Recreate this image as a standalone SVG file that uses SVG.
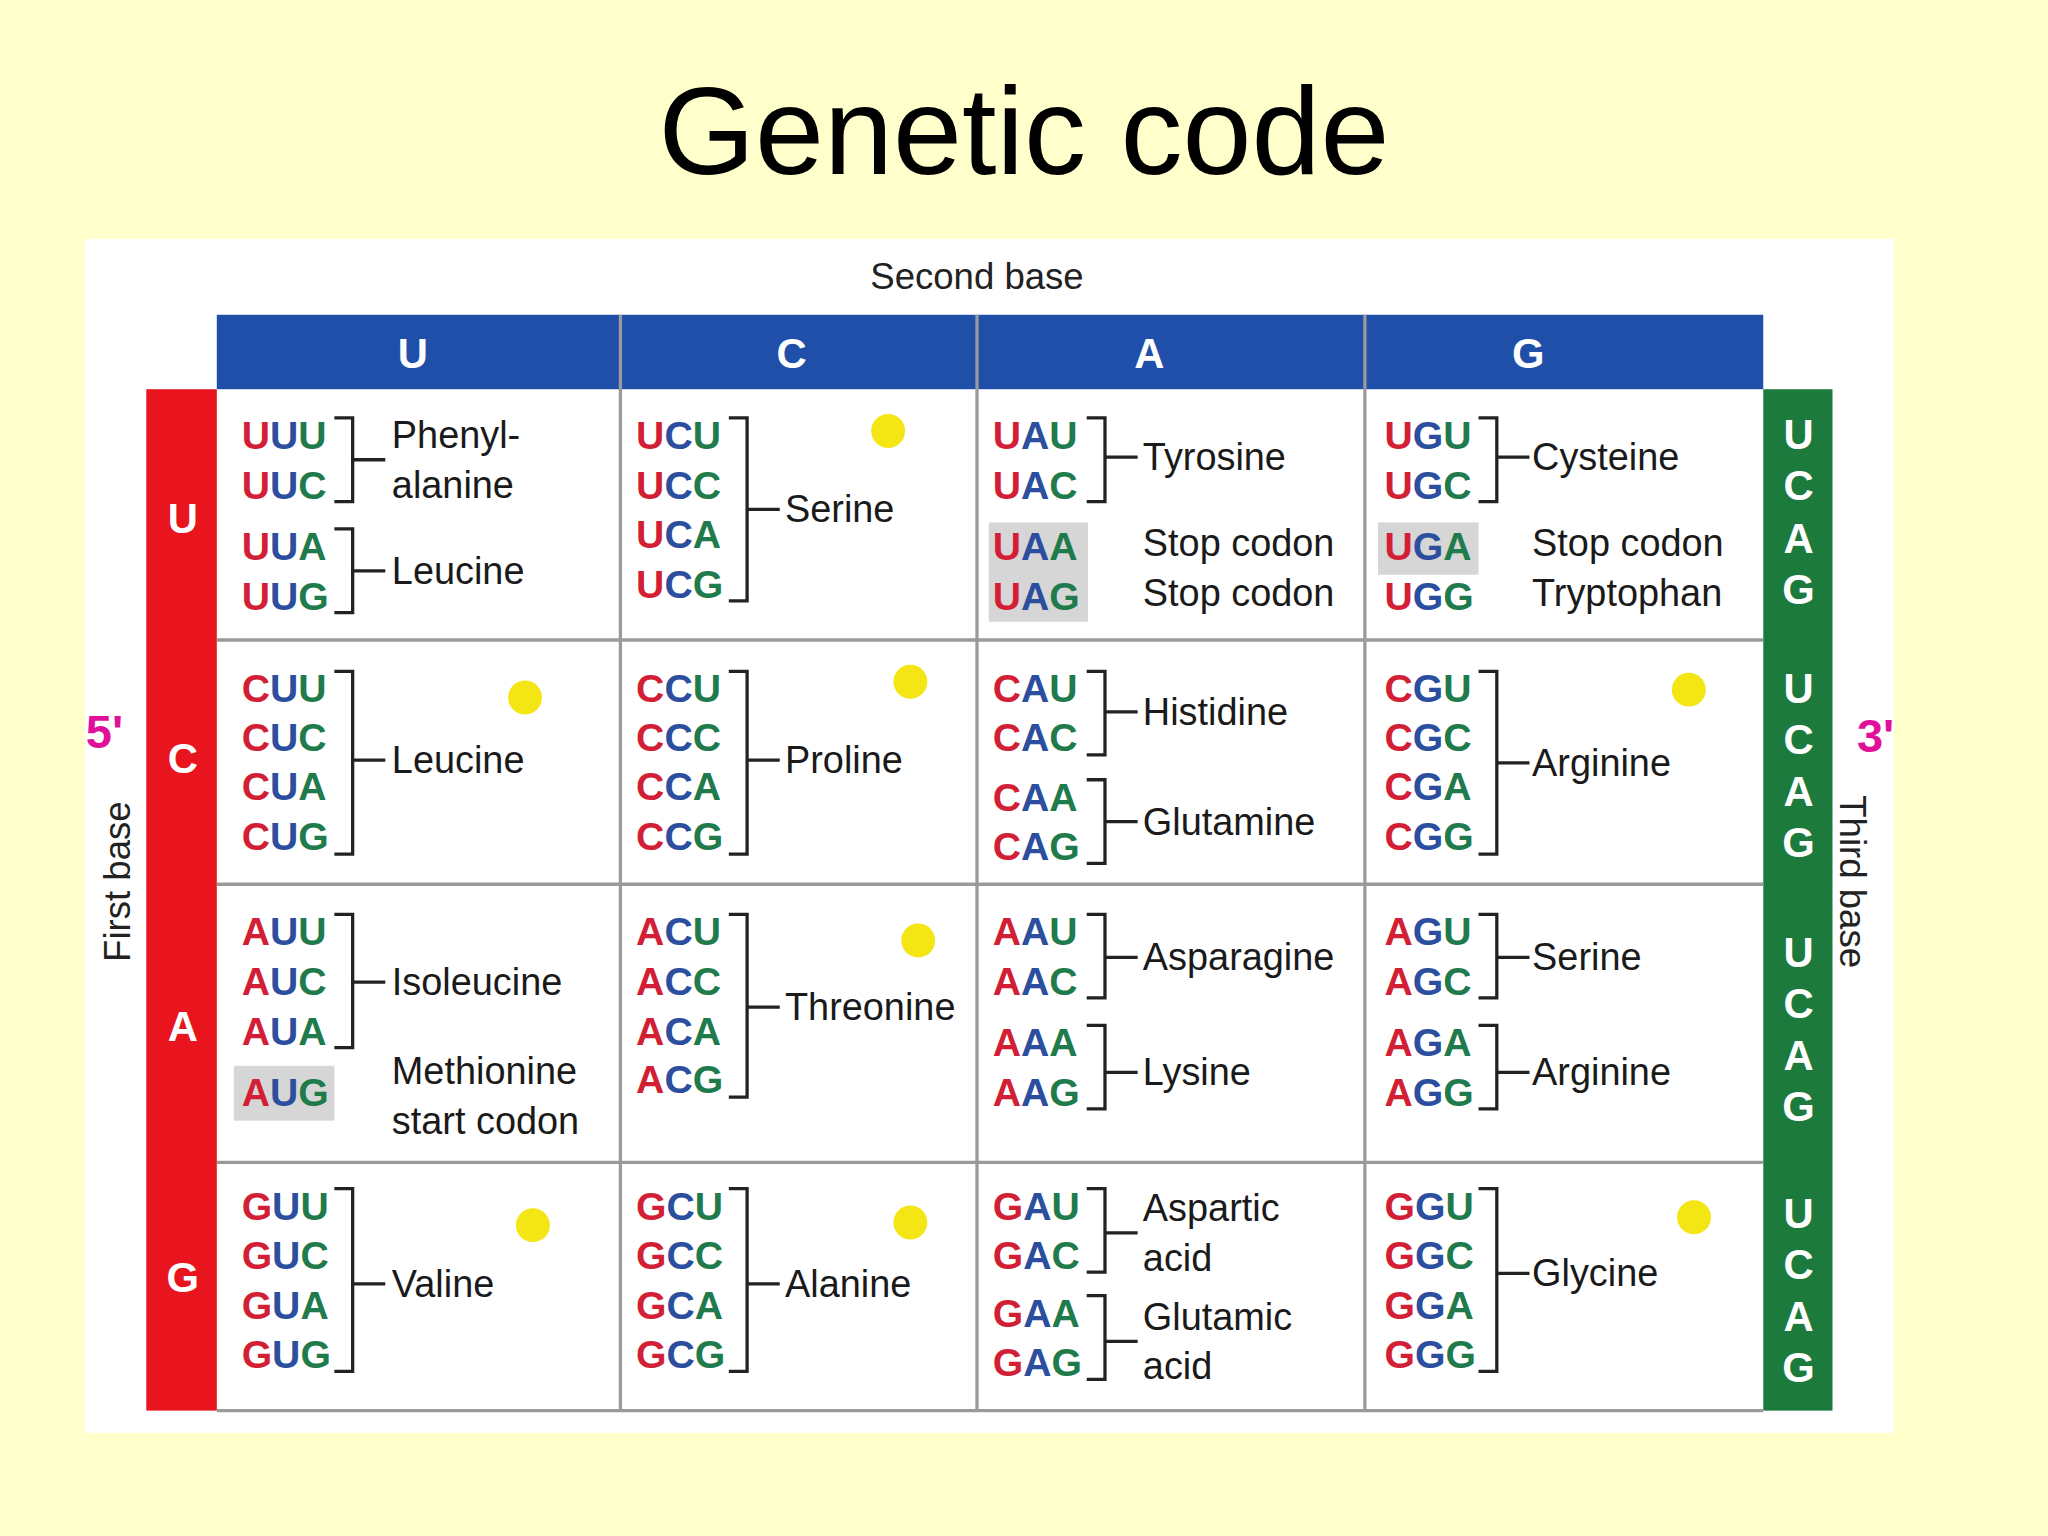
<svg xmlns="http://www.w3.org/2000/svg" width="2048" height="1536" viewBox="0 0 2048 1536">
<style>
text{font-family:"Liberation Sans",Arial,sans-serif;dominant-baseline:central}
.cd{font-size:30px;font-weight:bold}
.r{fill:#d21f35}.b{fill:#2b4e9e}.g{fill:#1f7a4c}
.lb{font-size:29px;fill:#1a1a1a}
.hd{font-size:32px;font-weight:bold;fill:#fff;text-anchor:middle}
.br{fill:none;stroke:#222;stroke-width:2.5}
.grid{stroke:#9a9a9a;stroke-width:2.5}
.dot{fill:#f4e515}
.hl{fill:#d6d6d6}
</style>
<rect width="2048" height="1536" fill="#ffffcc"/>
<g transform="scale(1.306122)">
<text x="784" y="100" font-size="95" text-anchor="middle" fill="#000">Genetic code</text>
<rect x="65" y="183" width="1385" height="914" fill="#fff"/>
<text x="748" y="212" font-size="28" text-anchor="middle" fill="#222">Second base</text>
<g id="frame">
<rect x="166" y="241" width="1184" height="57" fill="#1f4fa8"/>
<rect x="112" y="298" width="54" height="782" fill="#e8141e"/>
<rect x="1350" y="298" width="53" height="782" fill="#1c7a3c"/>
<line class="grid" x1="166" y1="490" x2="1350" y2="490"/>
<line class="grid" x1="166" y1="677" x2="1350" y2="677"/>
<line class="grid" x1="166" y1="890" x2="1350" y2="890"/>
<line class="grid" x1="166" y1="1080" x2="1350" y2="1080"/>
<line class="grid" x1="475" y1="241" x2="475" y2="1080"/>
<line class="grid" x1="748" y1="241" x2="748" y2="1080"/>
<line class="grid" x1="1045" y1="241" x2="1045" y2="1080"/>
<text class="hd" x="316" y="271">U</text><text class="hd" x="606" y="271">C</text><text class="hd" x="880" y="271">A</text><text class="hd" x="1170" y="271">G</text>
<text class="hd" x="140" y="397">U</text><text class="hd" x="140" y="581">C</text><text class="hd" x="140" y="786">A</text><text class="hd" x="140" y="978">G</text>
<g class="hd">
<text class="hd" x="1377" y="333">U</text><text class="hd" x="1377" y="372">C</text><text class="hd" x="1377" y="412">A</text><text class="hd" x="1377" y="451">G</text>
<text class="hd" x="1377" y="527">U</text><text class="hd" x="1377" y="566">C</text><text class="hd" x="1377" y="606">A</text><text class="hd" x="1377" y="645">G</text>
<text class="hd" x="1377" y="729">U</text><text class="hd" x="1377" y="768">C</text><text class="hd" x="1377" y="808">A</text><text class="hd" x="1377" y="847">G</text>
<text class="hd" x="1377" y="929">U</text><text class="hd" x="1377" y="968">C</text><text class="hd" x="1377" y="1008">A</text><text class="hd" x="1377" y="1047">G</text>
</g>
<text x="80" y="560" font-size="36" font-weight="bold" fill="#e0109a" text-anchor="middle">5'</text>
<text x="1436" y="563" font-size="36" font-weight="bold" fill="#e0109a" text-anchor="middle">3'</text>
<text transform="translate(90,675) rotate(-90)" font-size="28" text-anchor="middle" fill="#222">First base</text>
<text transform="translate(1418,675) rotate(90)" font-size="28" text-anchor="middle" fill="#222">Third base</text>
</g>
<g id="highlights">
<rect class="hl" x="757" y="400" width="76" height="76"/>
<rect class="hl" x="1055" y="400" width="77" height="40"/>
<rect class="hl" x="179" y="816" width="77" height="42"/>
<circle class="dot" cx="680" cy="330" r="13"/><circle class="dot" cx="402" cy="534" r="13"/>
<circle class="dot" cx="697" cy="522" r="13"/><circle class="dot" cx="1293" cy="528" r="13"/>
<circle class="dot" cx="703" cy="720" r="13"/><circle class="dot" cx="408" cy="938" r="13"/>
<circle class="dot" cx="697" cy="936" r="13"/><circle class="dot" cx="1297" cy="932" r="13"/>
</g>
<g id="codons" class="cd">
<!-- row U -->
<text class="cd" x="185" y="333"><tspan class="r">U</tspan><tspan class="b">U</tspan><tspan class="g">U</tspan></text>
<text class="cd" x="185" y="371"><tspan class="r">U</tspan><tspan class="b">U</tspan><tspan class="g">C</tspan></text>
<text class="cd" x="185" y="418"><tspan class="r">U</tspan><tspan class="b">U</tspan><tspan class="g">A</tspan></text>
<text class="cd" x="185" y="456"><tspan class="r">U</tspan><tspan class="b">U</tspan><tspan class="g">G</tspan></text>
<text class="cd" x="487" y="333"><tspan class="r">U</tspan><tspan class="b">C</tspan><tspan class="g">U</tspan></text>
<text class="cd" x="487" y="371"><tspan class="r">U</tspan><tspan class="b">C</tspan><tspan class="g">C</tspan></text>
<text class="cd" x="487" y="409"><tspan class="r">U</tspan><tspan class="b">C</tspan><tspan class="g">A</tspan></text>
<text class="cd" x="487" y="447"><tspan class="r">U</tspan><tspan class="b">C</tspan><tspan class="g">G</tspan></text>
<text class="cd" x="760" y="333"><tspan class="r">U</tspan><tspan class="b">A</tspan><tspan class="g">U</tspan></text>
<text class="cd" x="760" y="371"><tspan class="r">U</tspan><tspan class="b">A</tspan><tspan class="g">C</tspan></text>
<text class="cd" x="760" y="418"><tspan class="r">U</tspan><tspan class="b">A</tspan><tspan class="g">A</tspan></text>
<text class="cd" x="760" y="456"><tspan class="r">U</tspan><tspan class="b">A</tspan><tspan class="g">G</tspan></text>
<text class="cd" x="1060" y="333"><tspan class="r">U</tspan><tspan class="b">G</tspan><tspan class="g">U</tspan></text>
<text class="cd" x="1060" y="371"><tspan class="r">U</tspan><tspan class="b">G</tspan><tspan class="g">C</tspan></text>
<text class="cd" x="1060" y="418"><tspan class="r">U</tspan><tspan class="b">G</tspan><tspan class="g">A</tspan></text>
<text class="cd" x="1060" y="456"><tspan class="r">U</tspan><tspan class="b">G</tspan><tspan class="g">G</tspan></text>
<!-- row C -->
<text class="cd" x="185" y="527"><tspan class="r">C</tspan><tspan class="b">U</tspan><tspan class="g">U</tspan></text>
<text class="cd" x="185" y="564"><tspan class="r">C</tspan><tspan class="b">U</tspan><tspan class="g">C</tspan></text>
<text class="cd" x="185" y="602"><tspan class="r">C</tspan><tspan class="b">U</tspan><tspan class="g">A</tspan></text>
<text class="cd" x="185" y="640"><tspan class="r">C</tspan><tspan class="b">U</tspan><tspan class="g">G</tspan></text>
<text class="cd" x="487" y="527"><tspan class="r">C</tspan><tspan class="b">C</tspan><tspan class="g">U</tspan></text>
<text class="cd" x="487" y="564"><tspan class="r">C</tspan><tspan class="b">C</tspan><tspan class="g">C</tspan></text>
<text class="cd" x="487" y="602"><tspan class="r">C</tspan><tspan class="b">C</tspan><tspan class="g">A</tspan></text>
<text class="cd" x="487" y="640"><tspan class="r">C</tspan><tspan class="b">C</tspan><tspan class="g">G</tspan></text>
<text class="cd" x="760" y="527"><tspan class="r">C</tspan><tspan class="b">A</tspan><tspan class="g">U</tspan></text>
<text class="cd" x="760" y="564"><tspan class="r">C</tspan><tspan class="b">A</tspan><tspan class="g">C</tspan></text>
<text class="cd" x="760" y="610"><tspan class="r">C</tspan><tspan class="b">A</tspan><tspan class="g">A</tspan></text>
<text class="cd" x="760" y="648"><tspan class="r">C</tspan><tspan class="b">A</tspan><tspan class="g">G</tspan></text>
<text class="cd" x="1060" y="527"><tspan class="r">C</tspan><tspan class="b">G</tspan><tspan class="g">U</tspan></text>
<text class="cd" x="1060" y="564"><tspan class="r">C</tspan><tspan class="b">G</tspan><tspan class="g">C</tspan></text>
<text class="cd" x="1060" y="602"><tspan class="r">C</tspan><tspan class="b">G</tspan><tspan class="g">A</tspan></text>
<text class="cd" x="1060" y="640"><tspan class="r">C</tspan><tspan class="b">G</tspan><tspan class="g">G</tspan></text>
<!-- row A -->
<text class="cd" x="185" y="713"><tspan class="r">A</tspan><tspan class="b">U</tspan><tspan class="g">U</tspan></text>
<text class="cd" x="185" y="751"><tspan class="r">A</tspan><tspan class="b">U</tspan><tspan class="g">C</tspan></text>
<text class="cd" x="185" y="789"><tspan class="r">A</tspan><tspan class="b">U</tspan><tspan class="g">A</tspan></text>
<text class="cd" x="185" y="836"><tspan class="r">A</tspan><tspan class="b">U</tspan><tspan class="g">G</tspan></text>
<text class="cd" x="487" y="713"><tspan class="r">A</tspan><tspan class="b">C</tspan><tspan class="g">U</tspan></text>
<text class="cd" x="487" y="751"><tspan class="r">A</tspan><tspan class="b">C</tspan><tspan class="g">C</tspan></text>
<text class="cd" x="487" y="789"><tspan class="r">A</tspan><tspan class="b">C</tspan><tspan class="g">A</tspan></text>
<text class="cd" x="487" y="826"><tspan class="r">A</tspan><tspan class="b">C</tspan><tspan class="g">G</tspan></text>
<text class="cd" x="760" y="713"><tspan class="r">A</tspan><tspan class="b">A</tspan><tspan class="g">U</tspan></text>
<text class="cd" x="760" y="751"><tspan class="r">A</tspan><tspan class="b">A</tspan><tspan class="g">C</tspan></text>
<text class="cd" x="760" y="798"><tspan class="r">A</tspan><tspan class="b">A</tspan><tspan class="g">A</tspan></text>
<text class="cd" x="760" y="836"><tspan class="r">A</tspan><tspan class="b">A</tspan><tspan class="g">G</tspan></text>
<text class="cd" x="1060" y="713"><tspan class="r">A</tspan><tspan class="b">G</tspan><tspan class="g">U</tspan></text>
<text class="cd" x="1060" y="751"><tspan class="r">A</tspan><tspan class="b">G</tspan><tspan class="g">C</tspan></text>
<text class="cd" x="1060" y="798"><tspan class="r">A</tspan><tspan class="b">G</tspan><tspan class="g">A</tspan></text>
<text class="cd" x="1060" y="836"><tspan class="r">A</tspan><tspan class="b">G</tspan><tspan class="g">G</tspan></text>
<!-- row G -->
<text class="cd" x="185" y="923"><tspan class="r">G</tspan><tspan class="b">U</tspan><tspan class="g">U</tspan></text>
<text class="cd" x="185" y="961"><tspan class="r">G</tspan><tspan class="b">U</tspan><tspan class="g">C</tspan></text>
<text class="cd" x="185" y="999"><tspan class="r">G</tspan><tspan class="b">U</tspan><tspan class="g">A</tspan></text>
<text class="cd" x="185" y="1037"><tspan class="r">G</tspan><tspan class="b">U</tspan><tspan class="g">G</tspan></text>
<text class="cd" x="487" y="923"><tspan class="r">G</tspan><tspan class="b">C</tspan><tspan class="g">U</tspan></text>
<text class="cd" x="487" y="961"><tspan class="r">G</tspan><tspan class="b">C</tspan><tspan class="g">C</tspan></text>
<text class="cd" x="487" y="999"><tspan class="r">G</tspan><tspan class="b">C</tspan><tspan class="g">A</tspan></text>
<text class="cd" x="487" y="1037"><tspan class="r">G</tspan><tspan class="b">C</tspan><tspan class="g">G</tspan></text>
<text class="cd" x="760" y="923"><tspan class="r">G</tspan><tspan class="b">A</tspan><tspan class="g">U</tspan></text>
<text class="cd" x="760" y="961"><tspan class="r">G</tspan><tspan class="b">A</tspan><tspan class="g">C</tspan></text>
<text class="cd" x="760" y="1005"><tspan class="r">G</tspan><tspan class="b">A</tspan><tspan class="g">A</tspan></text>
<text class="cd" x="760" y="1043"><tspan class="r">G</tspan><tspan class="b">A</tspan><tspan class="g">G</tspan></text>
<text class="cd" x="1060" y="923"><tspan class="r">G</tspan><tspan class="b">G</tspan><tspan class="g">U</tspan></text>
<text class="cd" x="1060" y="961"><tspan class="r">G</tspan><tspan class="b">G</tspan><tspan class="g">C</tspan></text>
<text class="cd" x="1060" y="999"><tspan class="r">G</tspan><tspan class="b">G</tspan><tspan class="g">A</tspan></text>
<text class="cd" x="1060" y="1037"><tspan class="r">G</tspan><tspan class="b">G</tspan><tspan class="g">G</tspan></text>
</g>
<g id="connectors" class="br">
<path class="br" d="M256 320h14v64h-14M270 352h25M256 405h14v64h-14M270 437h25"/>
<path class="br" d="M558 320h14v140h-14M572 390h25"/>
<path class="br" d="M832 320h14v64h-14M846 350h25"/>
<path class="br" d="M1132 320h14v64h-14M1146 350h25"/>
<path class="br" d="M256 514h14v140h-14M270 582h25"/>
<path class="br" d="M558 514h14v140h-14M572 582h25"/>
<path class="br" d="M832 514h14v64h-14M846 545h25M832 597h14v64h-14M846 629h25"/>
<path class="br" d="M1132 514h14v140h-14M1146 584h25"/>
<path class="br" d="M256 700h14v102h-14M270 752h25"/>
<path class="br" d="M558 700h14v140h-14M572 771h25"/>
<path class="br" d="M832 700h14v64h-14M846 733h25M832 785h14v64h-14M846 821h25"/>
<path class="br" d="M1132 700h14v64h-14M1146 733h25M1132 785h14v64h-14M1146 821h25"/>
<path class="br" d="M256 910h14v140h-14M270 983h25"/>
<path class="br" d="M558 910h14v140h-14M572 983h25"/>
<path class="br" d="M832 910h14v64h-14M846 944h25M832 992h14v64h-14M846 1027h25"/>
<path class="br" d="M1132 910h14v140h-14M1146 975h25"/>
</g>
<g id="labels" class="lb">
<text class="lb" x="300" y="333">Phenyl-</text><text class="lb" x="300" y="371">alanine</text>
<text class="lb" x="300" y="437">Leucine</text>
<text class="lb" x="601" y="390">Serine</text>
<text class="lb" x="875" y="350">Tyrosine</text>
<text class="lb" x="875" y="416">Stop codon</text><text class="lb" x="875" y="454">Stop codon</text>
<text class="lb" x="1173" y="350">Cysteine</text>
<text class="lb" x="1173" y="416">Stop codon</text><text class="lb" x="1173" y="454">Tryptophan</text>
<text class="lb" x="300" y="582">Leucine</text>
<text class="lb" x="601" y="582">Proline</text>
<text class="lb" x="875" y="545">Histidine</text>
<text class="lb" x="875" y="629">Glutamine</text>
<text class="lb" x="1173" y="584">Arginine</text>
<text class="lb" x="300" y="752">Isoleucine</text>
<text class="lb" x="300" y="820">Methionine</text><text class="lb" x="300" y="858">start codon</text>
<text class="lb" x="601" y="771">Threonine</text>
<text class="lb" x="875" y="733">Asparagine</text>
<text class="lb" x="875" y="821">Lysine</text>
<text class="lb" x="1173" y="733">Serine</text>
<text class="lb" x="1173" y="821">Arginine</text>
<text class="lb" x="300" y="983">Valine</text>
<text class="lb" x="601" y="983">Alanine</text>
<text class="lb" x="875" y="925">Aspartic</text><text class="lb" x="875" y="963">acid</text>
<text class="lb" x="875" y="1008">Glutamic</text><text class="lb" x="875" y="1046">acid</text>
<text class="lb" x="1173" y="975">Glycine</text>
</g>
</g>
</svg>
